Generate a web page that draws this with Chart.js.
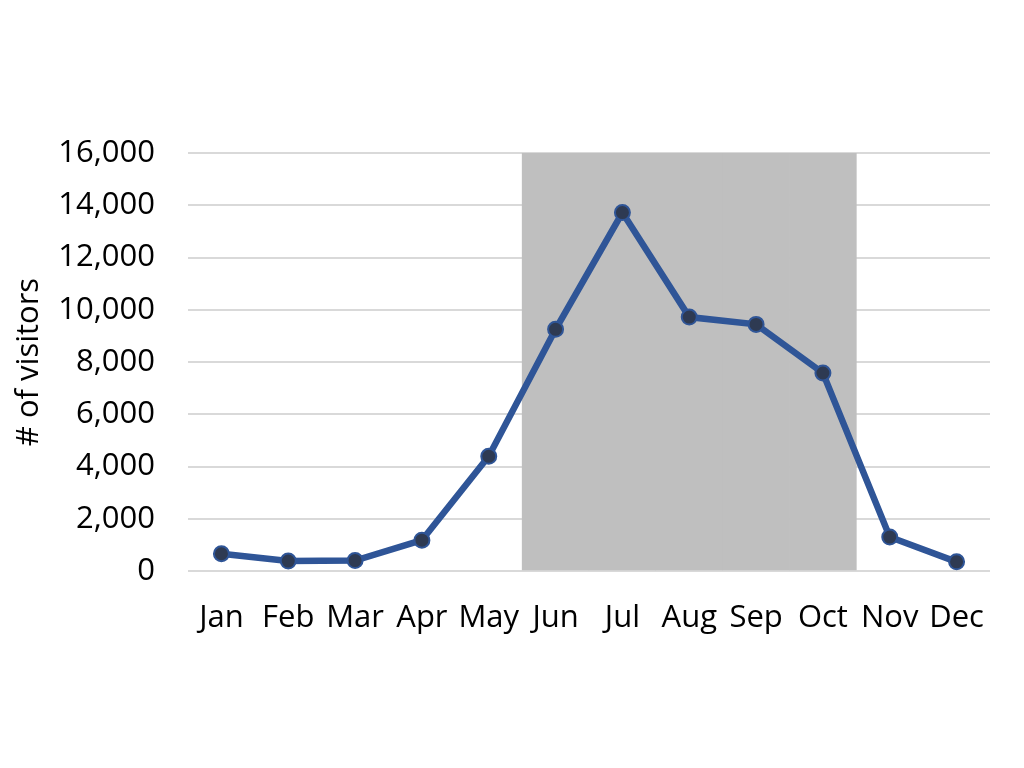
<!DOCTYPE html>
<html>
<head>
<meta charset="utf-8">
<script src="https://cdn.jsdelivr.net/npm/chart.js@4"></script>
<style>
  html, body { margin: 0; padding: 0; background: #fff; }
  #wrap { width: 1024px; height: 768px; }
</style>
</head>
<body>
<div id="wrap"><canvas id="myChart" width="1024" height="768"></canvas></div>
<script>
const months = ['Jan', 'Feb', 'Mar', 'Apr', 'May', 'Jun', 'Jul', 'Aug', 'Sep', 'Oct', 'Nov', 'Dec'];
const visitors = [660, 380, 400, 1180, 4390, 9250, 13720, 9720, 9440, 7580, 1300, 350];
// shaded summer season band (Jun - Oct)
const season = [null, null, null, null, null, 16000, 16000, 16000, 16000, 16000, null, null];
const yTicks = [0, 2000, 4000, 6000, 8000, 10000, 12000, 14000, 16000];

const font = "'Open Sans', sans-serif";

const ctx = document.getElementById('myChart').getContext('2d');
const myChart = new Chart(ctx, {
    data: {
        labels: months,
        datasets: [
            {
                type: 'line',
                label: '# of visitors',
                data: visitors,
                borderColor: '#2F5597',
                borderWidth: 6.5,
                pointRadius: 7.5,
                pointBackgroundColor: '#2E3A52',
                pointBorderColor: '#2F5597',
                pointBorderWidth: 2,
                tension: 0,
                order: 1
            },
            {
                type: 'bar',
                label: 'season',
                data: season,
                backgroundColor: '#BFBFBF',
                barPercentage: 1,
                categoryPercentage: 1,
                order: 2
            }
        ]
    },
    options: {
        responsive: false,
        animation: false,
        layout: {
            padding: { top: 153, right: 34, bottom: 107, left: 0 }
        },
        plugins: {
            legend: { display: false },
            tooltip: { enabled: false }
        },
        scales: {
            x: {
                offset: true,
                grid: { display: false },
                border: { display: false },
                ticks: {
                    color: '#000',
                    font: { family: font, size: 31 },
                    padding: 21,
                    maxRotation: 0,
                    autoSkip: false
                },
                afterFit: function(scale) { scale.height = 90; }
            },
            y: {
                min: 0,
                max: 16000,
                afterBuildTicks: function(scale) {
                    scale.ticks = yTicks.map(v => ({ value: v }));
                },
                grid: {
                    color: '#D9D9D9',
                    lineWidth: 2,
                    drawTicks: false
                },
                border: { display: false },
                ticks: {
                    color: '#000',
                    font: { family: font, size: 31 },
                    padding: 33,
                    callback: v => v.toLocaleString('en-US')
                },
                title: {
                    display: true,
                    text: '# of visitors',
                    color: '#000',
                    font: { family: font, size: 31 },
                    padding: { top: 11, bottom: 0 }
                },
                afterFit: function(scale) { scale.width = 188; }
            }
        }
    }
});
</script>
</body>
</html>
